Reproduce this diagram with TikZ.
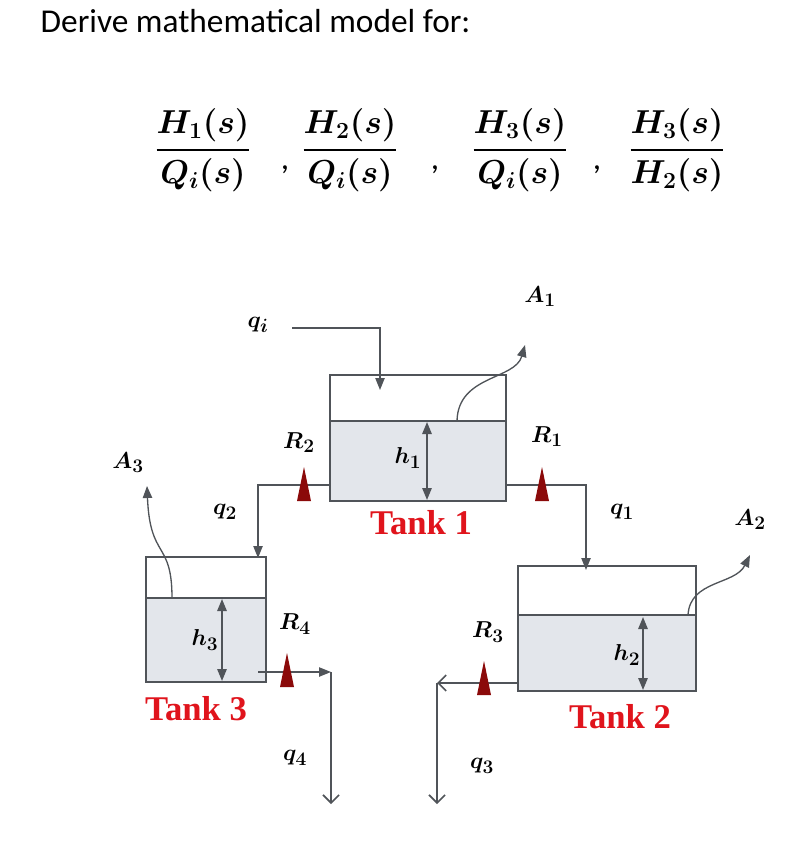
\documentclass[tikz,border=0pt]{standalone}
\usepackage{amsmath}
\usepackage{fontspec}
\setmainfont{Carlito}
\newfontfamily\serifbold{Liberation Serif}
\usetikzlibrary{arrows.meta}
\definecolor{pipe}{HTML}{505459}
\definecolor{water}{HTML}{E3E6EB}
\definecolor{valvered}{HTML}{8B0A0A}
\definecolor{tankred}{HTML}{E0141C}
\tikzset{
  pipe/.style={draw=pipe, line width=1pt},
  flow/.style={pipe, -{Triangle[length=9pt,width=7pt]}},
  outflow/.style={pipe, line width=1.2pt, -{Straight Barb[length=6pt,width=12pt]}},
  level/.style={pipe, line width=1.4pt, {Triangle[length=9pt,width=7pt]}-{Triangle[length=9pt,width=7pt]}},
  tankname/.style={text=tankred, font=\serifbold\fontsize{26}{30}\selectfont\bfseries},
  lbl/.style={font=\fontsize{19}{22}\selectfont},
  frac/.style={font=\fontsize{25}{30}\selectfont},
}
\newcommand{\valvetri}[2]{\fill[valvered] (#1-7,#2) -- (#1,#2-34) -- (#1+7,#2) -- cycle;}
\begin{document}
\begin{tikzpicture}[x=0.75pt, y=-0.75pt]
\useasboundingbox (0,0) rectangle (798,848);
% title and transfer functions
\node[anchor=west, font=\fontsize{25}{30}\selectfont] (title) at (36,21) {Derive mathematical model for:};
\node[frac] (f1) at (203,150) {$\boldsymbol{\dfrac{H_1(s)}{Q_i(s)}}$};
\node[frac] (f2) at (350,150) {$\boldsymbol{\dfrac{H_2(s)}{Q_i(s)}}$};
\node[frac] (f3) at (520,150) {$\boldsymbol{\dfrac{H_3(s)}{Q_i(s)}}$};
\node[frac] (f4) at (677,150) {$\boldsymbol{\dfrac{H_3(s)}{H_2(s)}}$};
\node[frac] (c1) at (285,170) {,};
\node[frac] (c2) at (435,170) {,};
\node[frac] (c3) at (597,170) {,};

% tank 1
\fill[water] (330,421) rectangle (506,501);
\draw[pipe] (330,375) rectangle (506,501);
\draw[pipe] (330,421) -- (506,421);
\coordinate (qin) at (292,328);
\coordinate (t1in) at (380,390);
\draw[flow] (qin) -| (t1in);
\coordinate (h1top) at (427,422);
\coordinate (h1bot) at (427,500);
\draw[level] (h1top) -- (h1bot);
\coordinate (a1s) at (457,421);
\coordinate (a1e) at (525,345);
\draw[flow] (a1s) .. controls (458,375) and (515,380) .. (a1e);
% tank 1 -> tank 2
\coordinate (r1s) at (506,485);
\coordinate (t2in) at (586,570);
\draw[flow] (r1s) -| (t2in);
\valvetri{542}{501}
% tank 1 -> tank 3
\coordinate (r2s) at (330,485);
\coordinate (t3in) at (258,558);
\draw[flow] (r2s) -| (t3in);
\valvetri{304}{501}

% tank 3
\fill[water] (146,598) rectangle (266,682);
\draw[pipe] (146,557) rectangle (266,682);
\draw[pipe] (146,598) -- (266,598);
\coordinate (h3top) at (222,599);
\coordinate (h3bot) at (222,681);
\draw[level] (h3top) -- (h3bot);
\coordinate (a3s) at (172,598);
\coordinate (a3e) at (147,486);
\draw[flow] (a3s) .. controls (172,540) and (150,560) .. (a3e);
\coordinate (r4s) at (258,672);
\coordinate (r4e) at (331,672);
\draw[flow] (r4s) -- (r4e);
\coordinate (q4e) at (331,804);
\draw[outflow] (r4e) -- (q4e);
\valvetri{287}{687}

% tank 2
\fill[water] (518,615) rectangle (696,691);
\draw[pipe] (518,566) rectangle (696,691);
\draw[pipe] (518,615) -- (696,615);
\coordinate (h2top) at (643,617);
\coordinate (h2bot) at (643,690);
\draw[level] (h2top) -- (h2bot);
\coordinate (a2s) at (688,615);
\coordinate (a2e) at (750,555);
\draw[flow] (a2s) .. controls (690,580) and (735,585) .. (a2e);
\coordinate (r3s) at (518,683);
\coordinate (r3e) at (437,683);
\draw[outflow] (r3s) -- (r3e);
\coordinate (q3e) at (437,804);
\draw[outflow] (r3e) -- (q3e);
\valvetri{484}{695}

% labels
\node[lbl] (lqi) at (258,325) {$\boldsymbol{q_i}$};
\node[lbl] (la1) at (540,297) {$\boldsymbol{A_1}$};
\node[lbl] (lr1) at (547,437) {$\boldsymbol{R_1}$};
\node[lbl] (lr2) at (299,443) {$\boldsymbol{R_2}$};
\node[lbl] (lh1) at (408,458) {$\boldsymbol{h_1}$};
\node[lbl] (la3) at (128,463) {$\boldsymbol{A_3}$};
\node[lbl] (lq2) at (225,512) {$\boldsymbol{q_2}$};
\node[lbl] (lq1) at (622,512) {$\boldsymbol{q_1}$};
\node[lbl] (la2) at (750,520) {$\boldsymbol{A_2}$};
\node[lbl] (lr4) at (295,624) {$\boldsymbol{R_4}$};
\node[lbl] (lh3) at (205,640) {$\boldsymbol{h_3}$};
\node[lbl] (lr3) at (488,632) {$\boldsymbol{R_3}$};
\node[lbl] (lh2) at (627,655) {$\boldsymbol{h_2}$};
\node[lbl] (lq4) at (295,758) {$\boldsymbol{q_4}$};
\node[lbl] (lq3) at (482,766) {$\boldsymbol{q_3}$};
\node[tankname] (tk1) at (421,523) {Tank 1};
\node[tankname] (tk3) at (196,709) {Tank 3};
\node[tankname] (tk2) at (620,717) {Tank 2};
\end{tikzpicture}
\end{document}
